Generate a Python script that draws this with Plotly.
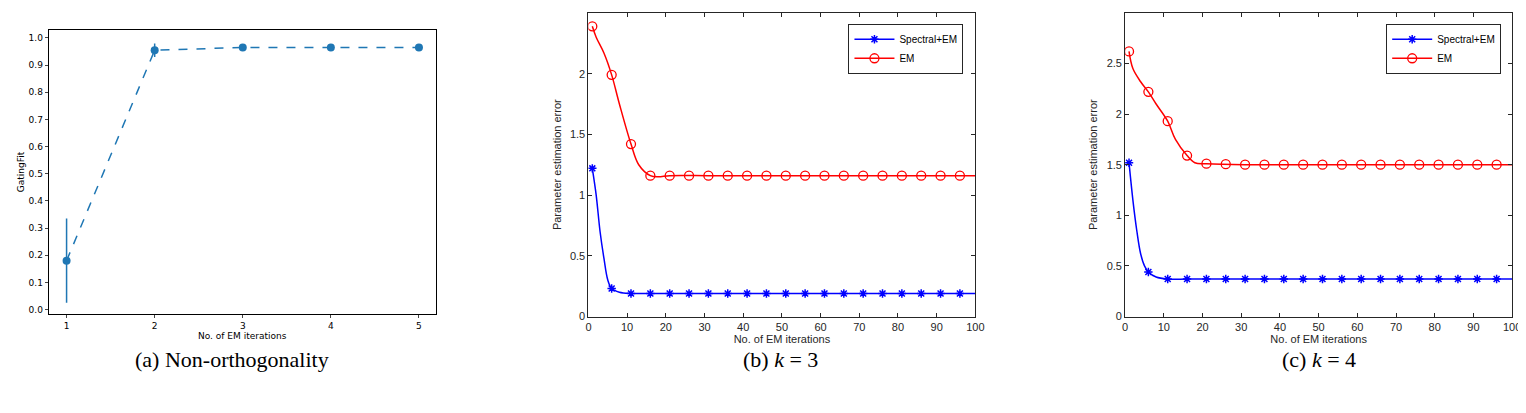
import plotly.graph_objects as go

# (a) Non-orthogonality
a_iter = [1, 2, 3, 4, 5]
a_fit = [0.18, 0.955, 0.965, 0.965, 0.965]
a_err = [0.155, 0.025, 0.006, 0.006, 0.006]

# (b) k = 3  (curve samples)
b_x = [1, 2, 3, 4, 5, 6, 8, 11, 16, 21, 31, 41, 51, 61, 71, 81, 91, 100]
b_spec = [1.22, 1.0, 0.7, 0.48, 0.3, 0.23, 0.2, 0.19, 0.19, 0.19, 0.19, 0.19, 0.19, 0.19, 0.19, 0.19, 0.19, 0.19]
b_em_x = [1, 2, 4, 6, 8, 11, 13, 16, 18, 21, 31, 41, 51, 61, 71, 81, 91, 100]
b_em = [2.39, 2.3, 2.17, 1.99, 1.75, 1.42, 1.25, 1.16, 1.15, 1.16, 1.16, 1.16, 1.16, 1.16, 1.16, 1.16, 1.16, 1.16]

# (c) k = 4
c_x = [1, 2, 3, 4, 5, 6, 8, 11, 16, 21, 31, 41, 51, 61, 71, 81, 91, 100]
c_spec = [1.52, 1.15, 0.85, 0.62, 0.5, 0.44, 0.39, 0.37, 0.37, 0.37, 0.37, 0.37, 0.37, 0.37, 0.37, 0.37, 0.37, 0.37]
c_em_x = [1, 2, 4, 6, 8, 11, 13, 16, 18, 21, 31, 41, 51, 61, 71, 81, 91, 100]
c_em = [2.62, 2.45, 2.32, 2.22, 2.1, 1.93, 1.75, 1.59, 1.52, 1.51, 1.5, 1.5, 1.5, 1.5, 1.5, 1.5, 1.5, 1.5]

marker_iters = list(range(1, 100, 5))

BLUE = "#0000ff"
RED = "#ff0000"
MPL = "#1f77b4"


def at(xs, ys, x):
    # value of the sampled curve at a marker iteration
    for i in range(len(xs) - 1):
        if xs[i] <= x <= xs[i + 1]:
            t = (x - xs[i]) / (xs[i + 1] - xs[i])
            return ys[i] + t * (ys[i + 1] - ys[i])
    return ys[-1]


fig = go.Figure()

fig.add_trace(go.Scatter(
    x=a_iter, y=a_fit, mode="lines+markers", xaxis="x", yaxis="y",
    line=dict(color=MPL, dash="dash", width=1.5),
    marker=dict(color=MPL, size=8),
    error_y=dict(type="data", array=a_err, color=MPL, thickness=1.5, width=0),
    showlegend=False))

spec_marker = dict(color=BLUE, symbol="asterisk", size=7, line=dict(color=BLUE, width=1.5))
em_marker = dict(color=RED, symbol="circle-open", size=9, line=dict(color=RED, width=1.3))


def add_panel(ax, ay, sx, sy, ex, ey, legend):
    fig.add_trace(go.Scatter(x=sx, y=sy, mode="lines", line=dict(color=BLUE, width=1.5, shape="spline"),
                             xaxis=ax, yaxis=ay, showlegend=False))
    fig.add_trace(go.Scatter(x=marker_iters, y=[at(sx, sy, m) for m in marker_iters], mode="markers",
                             marker=spec_marker, xaxis=ax, yaxis=ay, showlegend=False))
    fig.add_trace(go.Scatter(x=ex, y=ey, mode="lines", line=dict(color=RED, width=1.5, shape="spline"),
                             xaxis=ax, yaxis=ay, showlegend=False))
    fig.add_trace(go.Scatter(x=marker_iters, y=[at(ex, ey, m) for m in marker_iters], mode="markers",
                             marker=em_marker, xaxis=ax, yaxis=ay, showlegend=False))
    # legend entries
    fig.add_trace(go.Scatter(x=[None], y=[None], mode="lines+markers", name="Spectral+EM",
                             line=dict(color=BLUE, width=1.5), marker=spec_marker,
                             xaxis=ax, yaxis=ay, legend=legend))
    fig.add_trace(go.Scatter(x=[None], y=[None], mode="lines+markers", name="EM",
                             line=dict(color=RED, width=1.5), marker=em_marker,
                             xaxis=ax, yaxis=ay, legend=legend))


add_panel("x2", "y2", b_x, b_spec, b_em_x, b_em, "legend")
add_panel("x3", "y3", c_x, c_spec, c_em_x, c_em, "legend2")

tickf = dict(family="Liberation Sans, Arial", size=11, color="#262626")
mpl_f = dict(family="DejaVu Sans", size=9, color="#000")

common = dict(showgrid=False, zeroline=False, showline=True, linecolor="#262626", linewidth=1,
              mirror="ticks", ticks="inside", ticklen=4, tickcolor="#262626")

legf = dict(family="Liberation Sans, Arial", size=10, color="#000")
leg_common = dict(xanchor="right", yanchor="top", bgcolor="white", bordercolor="#262626", borderwidth=1,
                  font=legf, tracegroupgap=0, itemwidth=40)

fig.update_layout(
    width=1526, height=413, margin=dict(l=0, r=0, t=0, b=0),
    plot_bgcolor="white", paper_bgcolor="white",
    xaxis=dict(domain=[0.0249, 0.2805], range=[0.797, 5.19], tickvals=a_iter, showgrid=False, zeroline=False,
               showline=True, linecolor="#000", mirror=True, ticks="outside", ticklen=3, tickfont=mpl_f,
               title=dict(text="No. of EM iterations", font=mpl_f, standoff=1)),
    yaxis=dict(domain=[0.247, 0.947], range=[-0.018, 1.031], dtick=0.1, tickformat=".1f", showgrid=False,
               zeroline=False, showline=True, linecolor="#000", mirror=True, ticks="outside", ticklen=3,
               tickfont=mpl_f, title=dict(text="GatingFit", font=mpl_f, standoff=2)),
    xaxis2=dict(domain=[0.3814, 0.6370], range=[0, 100.01], tickvals=list(range(0, 101, 10)), anchor="y2",
                tickfont=tickf, title=dict(text="No. of EM iterations", font=tickf, standoff=1), **common),
    yaxis2=dict(domain=[0.242, 0.988], range=[0, 2.5005], tickvals=[0, 0.5, 1, 1.5, 2, 2.5], anchor="x2",
                tickfont=tickf, title=dict(text="Parameter estimation error", font=tickf, standoff=6), **common),
    xaxis3=dict(domain=[0.7359, 0.9915], range=[0, 100.01], tickvals=list(range(0, 101, 10)), anchor="y3",
                tickfont=tickf, title=dict(text="No. of EM iterations", font=tickf, standoff=1), **common),
    yaxis3=dict(domain=[0.242, 0.988], range=[0, 3.0005], tickvals=[0, 0.5, 1, 1.5, 2, 2.5, 3], anchor="x3",
                tickfont=tickf, title=dict(text="Parameter estimation error", font=tickf, standoff=6), **common),
    legend=dict(x=960 / 1526, y=1 - 16 / 413, **leg_common),
    legend2=dict(x=1502 / 1526, y=1 - 16 / 413, **leg_common),
)

capf = dict(family="Liberation Serif, DejaVu Serif", size=22, color="#000")
for cx, txt in ((223, "(a) Non-orthogonality"), (776, "(b) <i>k</i> = 3"), (1318, "(c) <i>k</i> = 4")):
    fig.add_annotation(xref="paper", yref="paper", x=cx / 1526, y=1 - 357 / 413, text=txt,
                       xanchor="center", yanchor="middle", showarrow=False, font=capf)

fig.write_html("out.html")
